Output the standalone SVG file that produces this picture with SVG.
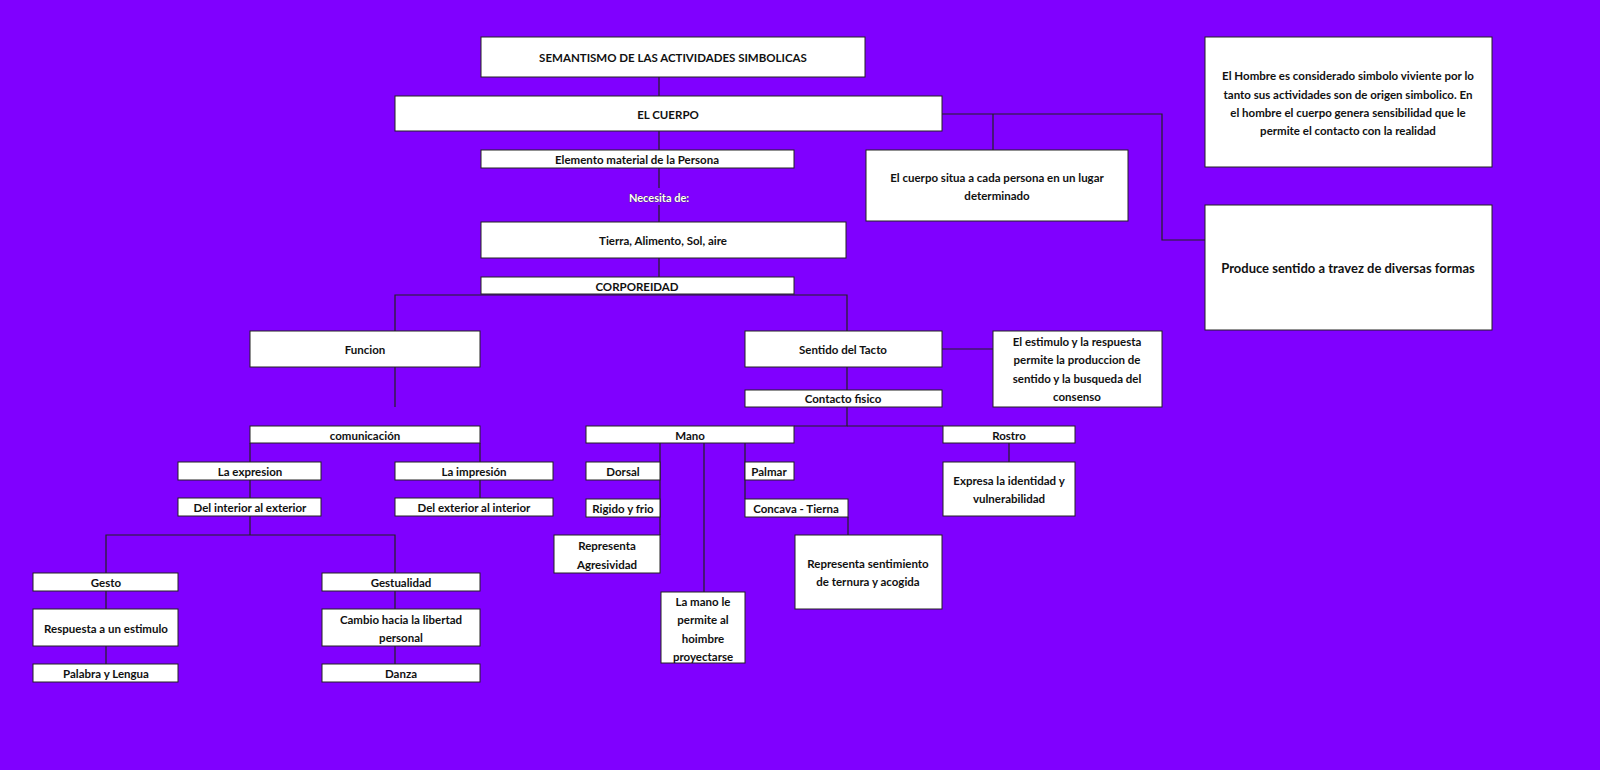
<svg xmlns="http://www.w3.org/2000/svg" width="1600" height="770" viewBox="0 0 1600 770">
<style>
rect{fill:#fff;stroke:#222;stroke-width:1}
text{font-family:Lato,"Open Sans",sans-serif;font-weight:bold;font-size:11.5px;fill:#111;text-anchor:middle;dominant-baseline:central}
.c line,.c polyline{stroke:#222;stroke-width:1.2;fill:none}
.nec{fill:#fff;stroke:#333;stroke-width:0.6;paint-order:stroke}
</style>
<rect x="0" y="0" width="1600" height="770" style="fill:#8000ff;stroke:none"/>
<g class="c">
<line x1="659" y1="77" x2="659" y2="96"/>
<line x1="659" y1="131" x2="659" y2="150"/>
<line x1="659" y1="168" x2="659" y2="188"/>
<line x1="659" y1="205" x2="659" y2="222"/>
<line x1="659" y1="258" x2="659" y2="277"/>
<polyline points="395,331 395,295 847,295 847,331"/>
<polyline points="942,114 1162,114 1162,240 1205,240"/>
<line x1="993" y1="114" x2="993" y2="150"/>
<line x1="395" y1="367" x2="395" y2="407"/>
<line x1="942" y1="349" x2="993" y2="349"/>
<line x1="847" y1="367" x2="847" y2="390"/>
<polyline points="847,407 847,426 794,426"/>
<line x1="847" y1="426" x2="943" y2="426"/>
<line x1="250" y1="443" x2="250" y2="462"/>
<line x1="480" y1="443" x2="480" y2="462"/>
<line x1="250" y1="480" x2="250" y2="498"/>
<line x1="480" y1="480" x2="480" y2="498"/>
<polyline points="250,516 250,535"/>
<polyline points="106,573 106,535 395,535 395,573"/>
<line x1="106" y1="591" x2="106" y2="609"/>
<line x1="106" y1="646" x2="106" y2="664"/>
<line x1="395" y1="591" x2="395" y2="609"/>
<line x1="395" y1="646" x2="395" y2="664"/>
<line x1="660" y1="443" x2="660" y2="535"/>
<line x1="704" y1="443" x2="704" y2="592"/>
<line x1="745" y1="443" x2="745" y2="499"/>
<line x1="848" y1="517" x2="848" y2="535"/>
<line x1="1009" y1="443" x2="1009" y2="462"/>
</g>
<text class="nec" x="659" y="197" style="font-size:11px">Necesita de:</text>
<g id="title"><rect x="481" y="37" width="384" height="40"/><text x="673" y="57">SEMANTISMO DE LAS ACTIVIDADES SIMBOLICAS</text></g>
<g id="cuerpo"><rect x="395" y="96" width="547" height="35"/><text x="668" y="114">EL CUERPO</text></g>
<g id="elemento"><rect x="481" y="150" width="313" height="18"/><text x="637" y="159">Elemento material de la Persona</text></g>
<g id="tierra"><rect x="481" y="222" width="365" height="36"/><text x="663" y="240">Tierra, Alimento, Sol, aire</text></g>
<g id="corporeidad"><rect x="481" y="277" width="313" height="17"/><text x="637" y="286">CORPOREIDAD</text></g>
<g id="situa"><rect x="866" y="150" width="262" height="71"/><text x="997" y="177">El cuerpo situa a cada persona en un lugar</text><text x="997" y="195">determinado</text></g>
<g id="hombre"><rect x="1205" y="37" width="287" height="130"/><text x="1348" y="75">El Hombre es considerado simbolo viviente por lo</text><text x="1348" y="94">tanto  sus actividades  son de origen simbolico.  En</text><text x="1348" y="112">el hombre el cuerpo genera sensibilidad que le</text><text x="1348" y="130">permite el contacto con la realidad</text></g>
<g id="produce"><rect x="1205" y="205" width="287" height="125"/><text x="1348" y="268" style="font-size:13px">Produce sentido a travez de diversas formas</text></g>
<g id="funcion"><rect x="250" y="331" width="230" height="36"/><text x="365" y="349">Funcion</text></g>
<g id="tacto"><rect x="745" y="331" width="197" height="36"/><text x="843" y="349">Sentido del Tacto</text></g>
<g id="estimulo"><rect x="993" y="331" width="169" height="76"/><text x="1077" y="341">El estimulo y la respuesta</text><text x="1077" y="359">permite la produccion de</text><text x="1077" y="378">sentido y la busqueda  del</text><text x="1077" y="396">consenso</text></g>
<g id="contacto"><rect x="745" y="390" width="197" height="17"/><text x="843" y="398">Contacto fisico</text></g>
<g id="comunicacion"><rect x="250" y="426" width="230" height="17"/><text x="365" y="435">comunicación</text></g>
<g id="mano"><rect x="586" y="426" width="208" height="17"/><text x="690" y="435">Mano</text></g>
<g id="rostro"><rect x="943" y="426" width="132" height="17"/><text x="1009" y="435">Rostro</text></g>
<g id="expresion"><rect x="178" y="462" width="143" height="18"/><text x="250" y="471">La expresion</text></g>
<g id="impresion"><rect x="395" y="462" width="158" height="18"/><text x="474" y="471">La impresión</text></g>
<g id="interior"><rect x="178" y="498" width="143" height="18"/><text x="250" y="507">Del interior al exterior</text></g>
<g id="exterior"><rect x="395" y="498" width="158" height="18"/><text x="474" y="507">Del exterior al interior</text></g>
<g id="dorsal"><rect x="586" y="462" width="74" height="18"/><text x="623" y="471">Dorsal</text></g>
<g id="palmar"><rect x="745" y="462" width="49" height="18"/><text x="769" y="471">Palmar</text></g>
<g id="rigido"><rect x="586" y="499" width="74" height="18"/><text x="623" y="508">Rigido y frio</text></g>
<g id="concava"><rect x="745" y="499" width="103" height="18"/><text x="796" y="508">Concava - Tierna</text></g>
<g id="agres"><rect x="554" y="535" width="106" height="38"/><text x="607" y="545">Representa</text><text x="607" y="564">Agresividad</text></g>
<g id="sentim"><rect x="795" y="535" width="147" height="74"/><text x="868" y="563">Representa sentimiento</text><text x="868" y="581">de ternura y acogida</text></g>
<g id="manole"><rect x="661" y="592" width="84" height="71"/><text x="703" y="601">La mano le</text><text x="703" y="619">permite al</text><text x="703" y="638">hoimbre</text><text x="703" y="656">proyectarse</text></g>
<g id="expresa"><rect x="943" y="462" width="132" height="54"/><text x="1009" y="480">Expresa la identidad y</text><text x="1009" y="498">vulnerabilidad</text></g>
<g id="gesto"><rect x="33" y="573" width="145" height="18"/><text x="106" y="582">Gesto</text></g>
<g id="gestualidad"><rect x="322" y="573" width="158" height="18"/><text x="401" y="582">Gestualidad</text></g>
<g id="respuesta"><rect x="33" y="609" width="145" height="37"/><text x="106" y="628">Respuesta a un estimulo</text></g>
<g id="cambio"><rect x="322" y="609" width="158" height="37"/><text x="401" y="619">Cambio hacia la libertad</text><text x="401" y="637">personal</text></g>
<g id="palabra"><rect x="33" y="664" width="145" height="18"/><text x="106" y="673">Palabra y Lengua</text></g>
<g id="danza"><rect x="322" y="664" width="158" height="18"/><text x="401" y="673">Danza</text></g>
</svg>
